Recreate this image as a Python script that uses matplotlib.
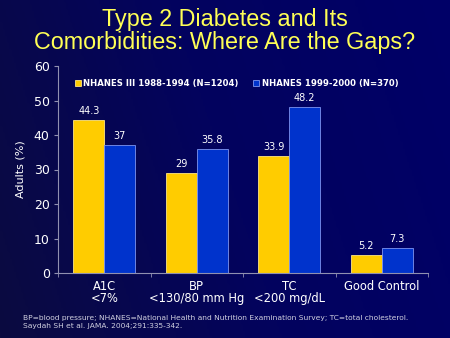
import matplotlib

matplotlib.use("Agg")
import matplotlib.pyplot as plt
import numpy as np
from matplotlib import font_manager as fm
from matplotlib.colors import LinearSegmentedColormap

categories = ["A1C\n<7%", "BP\n<130/80 mm Hg", "TC\n<200 mg/dL", "Good Control"]
nhanes_iii = [44.3, 29, 33.9, 5.2]
nhanes_99 = [37, 35.8, 48.2, 7.3]
series_names = ["NHANES III 1988-1994 (N=1204)", "NHANES 1999-2000 (N=370)"]
yticks = [0, 10, 20, 30, 40, 50, 60]


def title_font(size):
    # pick the regular-width Liberation Sans, not the Narrow one
    for path in fm.findSystemFonts():
        if path.endswith("LiberationSans-Regular.ttf"):
            return fm.FontProperties(fname=path, size=size)
    return fm.FontProperties(family="Liberation Sans", size=size)


fig = plt.figure(figsize=(4.5, 3.38), dpi=100)

# background gradient
bg = fig.add_axes([0, 0, 1, 1], zorder=-10)
cmap = LinearSegmentedColormap.from_list("bg", ["#0b0b40", "#03035e", "#000068"])
xx, yy = np.meshgrid(np.linspace(0, 1, 200), np.linspace(0, 1, 150))
bg.imshow(0.8 * xx + 0.2 * (1 - yy), cmap=cmap, aspect="auto", extent=[0, 1, 0, 1])
bg.axis("off")

fig.text(0.5, 0.975, "Type 2 Diabetes and Its\nComorbidities: Where Are the Gaps?",
         ha="center", va="top", color="#ffff55", fontproperties=title_font(16.8),
         linespacing=0.98)

ax = fig.add_axes([58 / 450, 1 - 273 / 338, 370 / 450, 207 / 338])
ax.set_facecolor("none")
x = np.arange(len(categories))
w = 0.335
b1 = ax.bar(x - w / 2, nhanes_iii, w, color="#ffcc00", edgecolor="#ffe680", linewidth=0.6,
            label=series_names[0])
b2 = ax.bar(x + w / 2, nhanes_99, w, color="#0033cc", edgecolor="#7f95f0", linewidth=0.6,
            label=series_names[1])
for bars, vals in [(b1, nhanes_iii), (b2, nhanes_99)]:
    for r, v in zip(bars, vals):
        ax.text(r.get_x() + r.get_width() / 2, v + 1.2, f"{v:g}", ha="center", va="bottom",
                color="white", fontsize=7)

ax.set_xlim(-0.5, len(categories) - 0.5)
ax.set_ylim(0, 60)
ax.set_yticks(yticks)
ax.set_xticks(np.arange(len(categories) + 1) - 0.5, minor=True)
ax.set_xticks(x)
ax.set_xticklabels(categories, color="white", fontsize=8.3, linespacing=0.95)
ax.tick_params(axis="x", which="major", length=0, pad=5)
ax.tick_params(axis="x", which="minor", length=3, color="#9090b0")
ax.tick_params(axis="y", colors="white", labelsize=9, length=3, pad=3)
ax.tick_params(axis="y", color="#9090b0")
for s in ["top", "right"]:
    ax.spines[s].set_visible(False)
for s in ["left", "bottom"]:
    ax.spines[s].set_color("#9090b0")
ax.set_ylabel("Adults (%)", color="white", fontsize=8, labelpad=6)

leg = ax.legend(loc="upper left", bbox_to_anchor=(0.025, 0.975), ncol=2, frameon=False,
                handlelength=0.7, handleheight=0.7, handletextpad=0.3,
                columnspacing=1.7, prop={"weight": "bold", "size": 6.1})
for t in leg.get_texts():
    t.set_color("white")

fig.text(0.051, 0.068, "BP=blood pressure; NHANES=National Health and Nutrition Examination Survey; TC=total cholesterol.\n"
         "Saydah SH et al. JAMA. 2004;291:335-342.", ha="left", va="top", color="#d0d0e0",
         fontsize=5.4, linespacing=1.3)

fig.savefig("out.png", dpi=100)
